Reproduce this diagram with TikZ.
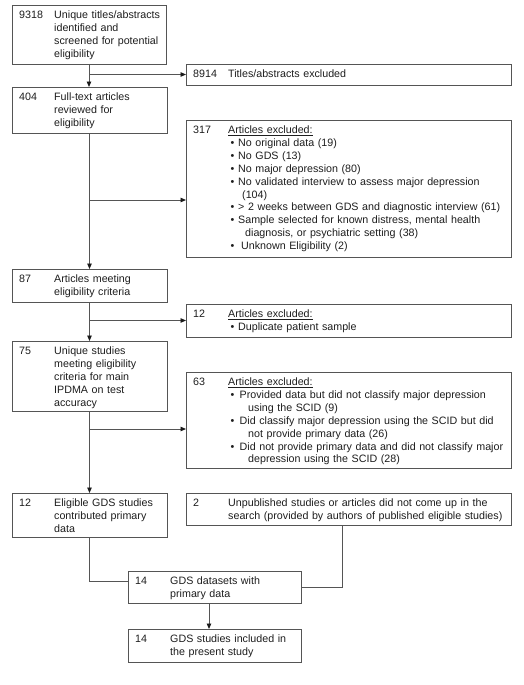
\documentclass[tikz,border=0pt]{standalone}
\usepackage{fontspec}
\setmainfont{Liberation Sans}
\usetikzlibrary{arrows.meta,calc}
\definecolor{linec}{HTML}{555555}
\definecolor{txtc}{HTML}{1E1E1E}
\definecolor{tipc}{HTML}{1A1A1A}
\newcommand\myitem[1]{\hspace*{2.5pt}\makebox[7.5pt][l]{\textbullet}#1}
\newcommand\mycont[1]{\hspace*{17pt}#1}
\begin{document}
\begin{tikzpicture}[x=1pt,y=-1pt,font=\fontsize{10.7}{12.9}\selectfont,
  boxst/.style={draw=linec, line width=0.9pt, rectangle, inner sep=0pt, outer sep=0pt},
  numst/.style={anchor=base west, inner sep=0pt, text=txtc},
  txtst/.style={anchor=base west, inner sep=0pt, align=left, text width=300pt, text=txtc},
  conn/.style={draw=linec, line width=0.9pt},
  arr/.style={conn, -{Triangle[length=5.5pt,width=4.5pt,color=tipc]}}]
\useasboundingbox[fill=white] (0,0) rectangle (523,685);
% boxes
\node[boxst, minimum width=154pt, minimum height=59pt] (b1) at (89,34.5) {};
\node[boxst, minimum width=325pt, minimum height=21pt] (b8914) at (348.5,74.5) {};
\node[boxst, minimum width=155pt, minimum height=46pt] (b404) at (89.5,110) {};
\node[boxst, minimum width=325pt, minimum height=137pt] (b317) at (348.5,188.5) {};
\node[boxst, minimum width=155pt, minimum height=33pt] (b87) at (89.5,285.5) {};
\node[boxst, minimum width=325pt, minimum height=33pt] (b12x) at (348.5,320.5) {};
\node[boxst, minimum width=155pt, minimum height=70pt] (b75) at (89.5,376) {};
\node[boxst, minimum width=325pt, minimum height=96pt] (b63) at (348.5,420) {};
\node[boxst, minimum width=155pt, minimum height=44pt] (b12e) at (89.5,515) {};
\node[boxst, minimum width=325pt, minimum height=32pt] (b2u) at (348.5,509) {};
\node[boxst, minimum width=173pt, minimum height=32pt] (b14d) at (214.5,587) {};
\node[boxst, minimum width=173pt, minimum height=33pt] (b14s) at (214.5,645.5) {};
% texts
\node[numst] (n1) at ($(b1.north west)+(7,13.5)$) {9318};
\node[txtst] (t1) at ($(b1.north west)+(42,13.5)$) {Unique titles/abstracts\\identified and\\screened for potential\\eligibility};
\node[numst] (n8914) at ($(b8914.north west)+(7,13.5)$) {8914};
\node[txtst] (t8914) at ($(b8914.north west)+(42,13.5)$) {Titles/abstracts excluded};
\node[numst] (n404) at ($(b404.north west)+(7,13.5)$) {404};
\node[txtst] (t404) at ($(b404.north west)+(42,13.5)$) {Full-text articles\\reviewed for\\eligibility};
\node[numst] (n317) at ($(b317.north west)+(7,13.5)$) {317};
\node[txtst] (t317) at ($(b317.north west)+(42,13.5)$) {\underline{Articles excluded:}\\
\myitem{No original data (19)}\\
\myitem{No GDS (13)}\\
\myitem{No major depression (80)}\\
\myitem{No validated interview to assess major depression}\\
\mycont{\hspace*{-3pt}(104)}\\
\myitem{> 2 weeks between GDS and diagnostic interview (61)}\\
\myitem{Sample selected for known distress, mental health}\\
\mycont{diagnosis, or psychiatric setting (38)}\\
\myitem{\hspace*{3pt}Unknown Eligibility (2)}};
\node[numst] (n87) at ($(b87.north west)+(7,13.5)$) {87};
\node[txtst] (t87) at ($(b87.north west)+(42,13.5)$) {Articles meeting\\eligibility criteria};
\node[numst] (n12x) at ($(b12x.north west)+(7,13.5)$) {12};
\node[txtst] (t12x) at ($(b12x.north west)+(42,13.5)$) {\underline{Articles excluded:}\\
\myitem{Duplicate patient sample}};
\node[numst] (n75) at ($(b75.north west)+(7,13.5)$) {75};
\node[txtst] (t75) at ($(b75.north west)+(42,13.5)$) {Unique studies\\meeting eligibility\\criteria for main\\IPDMA on test\\accuracy};
\node[numst] (n63) at ($(b63.north west)+(7,13.5)$) {63};
\node[txtst] (t63) at ($(b63.north west)+(42,13.5)$) {\underline{Articles excluded:}\\
\myitem{\hspace*{1.5pt}Provided data but did not classify major depression}\\
\mycont{\hspace*{3pt}using the SCID (9)}\\
\myitem{\hspace*{1.5pt}Did classify major depression using the SCID but did}\\
\mycont{\hspace*{3pt}not provide primary data (26)}\\
\myitem{\hspace*{1.5pt}Did not provide primary data and did not classify major}\\
\mycont{\hspace*{3pt}depression using the SCID (28)}};
\node[numst] (n12e) at ($(b12e.north west)+(7,13.5)$) {12};
\node[txtst] (t12e) at ($(b12e.north west)+(42,13.5)$) {Eligible GDS studies\\contributed primary\\data};
\node[numst] (n2u) at ($(b2u.north west)+(7,13.5)$) {2};
\node[txtst] (t2u) at ($(b2u.north west)+(42,13.5)$) {Unpublished studies or articles did not come up in the\\search (provided by authors of published eligible studies)};
\node[numst] (n14d) at ($(b14d.north west)+(7,13.5)$) {14};
\node[txtst] (t14d) at ($(b14d.north west)+(42,13.5)$) {GDS datasets with\\primary data};
\node[numst] (n14s) at ($(b14s.north west)+(7,13.5)$) {14};
\node[txtst] (t14s) at ($(b14s.north west)+(42,13.5)$) {GDS studies included in\\the present study};
% junction coordinates
\coordinate (j317) at ($(b317.north west)+(0,80)$);
\coordinate (j63) at ($(b63.north west)+(0,57)$);
\coordinate (j14l) at ($(b14d.north west)+(0,10)$);
\coordinate (j2u) at ($(b2u.south west)+(156,0)$);
\coordinate (j14t) at ($(b14d.south west)+(81,0)$);
% connectors
\draw[arr] (b1.south) -- (b1.south |- b404.north);
\draw[arr] (b1.south |- b8914.west) -- (b8914.west);
\draw[arr] (b404.south) -- (b404.south |- b87.north);
\draw[arr] (b404.south |- j317) -- (j317);
\draw[arr] (b87.south) -- (b87.south |- b75.north);
\draw[arr] (b87.south |- b12x.west) -- (b12x.west);
\draw[arr] (b75.south) -- (b75.south |- b12e.north);
\draw[arr] (b75.south |- j63) -- (j63);
\draw[conn] (b12e.south) |- (j14l);
\draw[conn] (j2u) |- (b14d.east);
\draw[arr] (j14t) -- (j14t |- b14s.north);
\end{tikzpicture}
\end{document}
